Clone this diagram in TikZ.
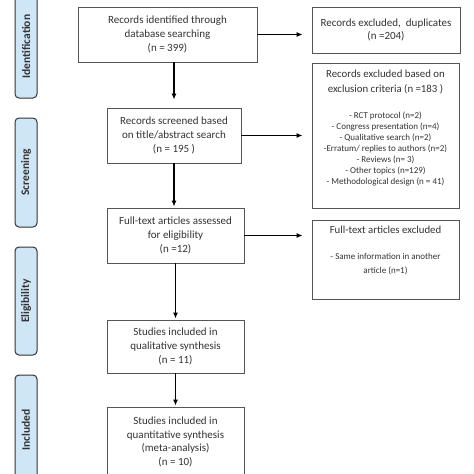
\documentclass[tikz,border=0pt]{standalone}
\usepackage{fontspec}
\setmainfont{Carlito}
\usetikzlibrary{arrows.meta}
\definecolor{barfill}{HTML}{CFE6F7}
\definecolor{edge}{HTML}{555555}
\definecolor{ink}{HTML}{333333}
\tikzset{
 box/.style={draw=edge, line width=0.9pt, inner sep=0pt, align=center, text=ink, font=\fontsize{11}{13.8}\selectfont},
 phase/.style={draw=black!80, fill=barfill, rounded corners=4pt, line width=1pt, rotate=90, minimum height=22pt, inner sep=0pt, font=\bfseries\fontsize{11.5}{12}\selectfont, text=ink},
 arr/.style={-{Latex[length=6pt,width=5pt]}, line width=1.4pt, black},
 harr/.style={-{Latex[length=6pt,width=5pt]}, line width=1pt, black, shorten >=9pt},
 ttl/.style={align=center, text=ink, inner sep=0pt, anchor=north, font=\fontsize{10.8}{15}\selectfont},
 small/.style={align=center, text=ink, inner sep=0pt, anchor=north, font=\fontsize{9}{11}\selectfont},
}
\begin{document}
\begin{tikzpicture}[x=1pt,y=-1pt]
\useasboundingbox (0,0) rectangle (474,474);
\clip (0,0) rectangle (474,474);
\fill[white] (0,0) rectangle (474,474);
% phase bars
\node[phase, minimum width=103pt] (p1) at (26,46.5) {Identification};
\node[phase, minimum width=109pt] (p2) at (26,172.5) {Screening};
\node[phase, minimum width=108pt] (p3) at (26,301) {Eligibility};
\node[phase, minimum width=110pt] (p4) at (26,430) {Included};
% main boxes
\node[box, minimum width=179pt, minimum height=55pt] (b1) at (167.5,34.5) {Records identified through\\database searching\\(n = 399)};
\node[box, minimum width=134pt, minimum height=55pt] (b2) at (174,135.5) {Records screened based\\on title/abstract search\\(n = 195 )};
\node[box, minimum width=137pt, minimum height=55pt] (b3) at (175.5,235.5) {Full-text articles assessed\\for eligibility\\(n =12)};
\node[box, minimum width=137pt, minimum height=53pt] (b4) at (175.5,346.5) {Studies included in\\qualitative synthesis\\(n = 11)};
\node[box, minimum width=137pt, minimum height=70pt] (b5) at (175.5,442) {Studies included in\\quantitative synthesis\\(meta-analysis)\\(n = 10)};
% right boxes
\node[box, minimum width=148pt, minimum height=46pt] (r1) at (386,30) {Records excluded,~ duplicates\\(n =204)};
\node[box, minimum width=147pt, minimum height=145pt] (r2) at (385.5,135.5) {};
\node[ttl] (r2t) at (385.5,69.5) {Records excluded based on\\exclusion criteria (n =183 )};
\node[small] (r2l) at (385.5,111.5) {- RCT protocol (n=2)\\- Congress presentation (n=4)\\- Qualitative search (n=2)\\-Erratum/ replies to authors (n=2)\\- Reviews (n= 3)\\- Other topics (n=129)\\- Methodological design (n = 41)};
\node[box, minimum width=147pt, minimum height=79pt] (r3) at (385.5,259.5) {};
\node[ttl] (r3t) at (385.5,225.5) {Full-text articles excluded};
\node[small, font=\fontsize{9}{14}\selectfont] (r3l) at (385.5,253.5) {- Same information in another\\article (n=1)};
% arrows
\draw[arr, shorten >=8pt] (b1.south -| b2.north) -- (b2.north);
\draw[arr, shorten >=1pt] (b2.south) -- (b2.south |- b3.north);
\draw[arr, shorten >=1pt] (b3.south) -- (b3.south |- b4.north);
\draw[arr, shorten >=1pt] (b4.south) -- (b5.north);
\draw[harr] (b1.east) -- (b1.east -| r1.west);
\draw[harr, line width=1.4pt] (b2.east) -- (b2.east -| r2.west);
\draw[harr] (b3.east) -- (b3.east -| r3.west);
\end{tikzpicture}
\end{document}
